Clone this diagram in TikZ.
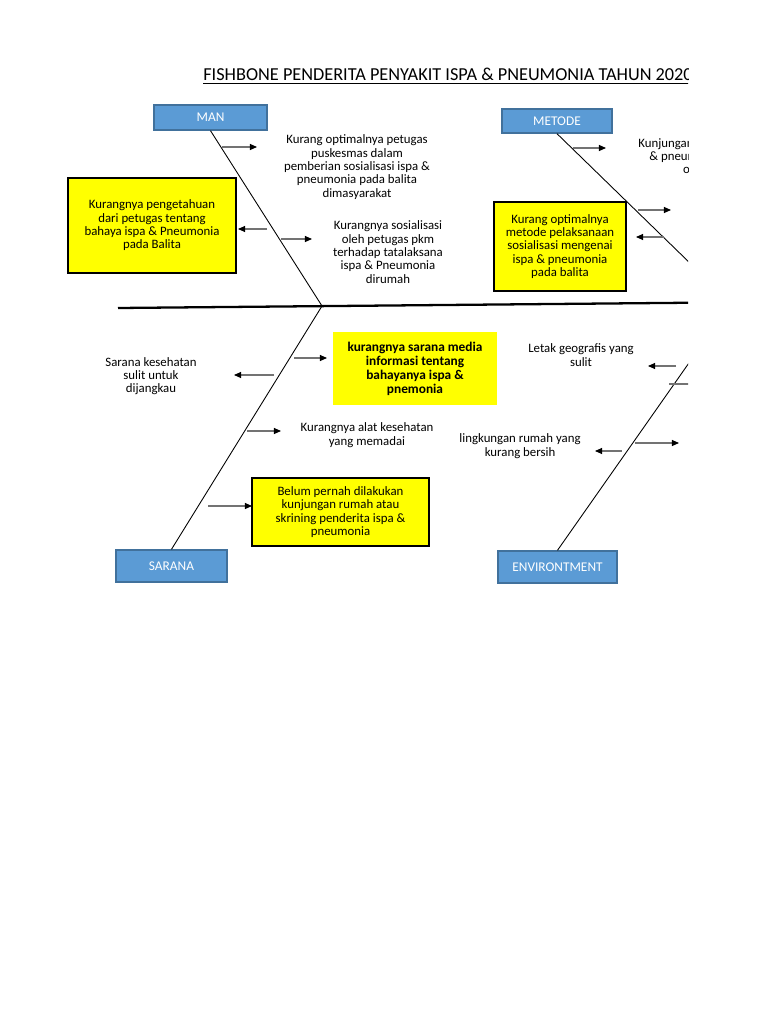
\documentclass[tikz,border=0pt]{standalone}
\usepackage{fontspec}
\setmainfont{Carlito}
\usetikzlibrary{arrows.meta}
\definecolor{catblue}{HTML}{5B9BD5}
\definecolor{catedge}{HTML}{41719C}
\definecolor{causeyellow}{HTML}{FFFF00}

\begin{document}
\begin{tikzpicture}[x=0.02cm,y=-0.02cm,
	cat/.style={fill=catblue, draw=catedge, line width=0.8pt, text=white, inner sep=0pt, font=\fontsize{7.6}{9}\selectfont},
	cause/.style={align=center, inner sep=0pt, font=\fontsize{7.3}{7.6}\selectfont},
	ybox/.style={cause, fill=causeyellow, draw=black, line width=1pt},
	arr/.style={-{Triangle[length=4pt,width=3.4pt,color=black]}, draw=black!55, line width=0.6pt},
	bone/.style={line width=0.5pt}]
	\useasboundingbox (0,0) rectangle (768,1024);
	\begin{scope}
	\clip (0,0) rectangle (688,1024);
	% judul
	\node[anchor=base west, inner sep=0pt, font=\fontsize{10.4}{12}\selectfont] (judul) at (203,81) {\underline{FISHBONE PENDERITA PENYAKIT ISPA \& PNEUMONIA TAHUN 2020}};
	% tulang utama
	\coordinate (ekor) at (118,308);
	\coordinate (kepala) at (770,302);
	\coordinate (jkiri) at (322,306);
	\coordinate (jkanan) at (731,303);
	\draw [line width=1.3pt] (ekor) -- (kepala);
	% kategori
	\node[cat, minimum width=2.26cm, minimum height=0.5cm] (man) at (210.5,117.5) {MAN};
	\node[cat, minimum width=2.2cm, minimum height=0.48cm] (metode) at (557,121) {METODE};
	\node[cat, minimum width=2.22cm, minimum height=0.64cm] (sarana) at (171.5,566) {SARANA};
	\node[cat, minimum width=2.38cm, minimum height=0.64cm] (env) at (557.5,567) {ENVIRONTMENT};
	\draw [bone] (man.south) -- (jkiri);
	\draw [bone] (sarana.north) -- (jkiri);
	\draw [bone] (metode.south) -- (jkanan);
	\draw [bone] (env.north) -- (jkanan);
	% sebab
	\node[cause] (p1) at (357,167) {Kurang optimalnya petugas\\puskesmas dalam\\pemberian sosialisasi ispa \&\\pneumonia pada balita\\dimasyarakat};
	\node[ybox, minimum width=3.36cm, minimum height=1.9cm] (y1) at (152,225.5) {Kurangnya pengetahuan\\dari petugas tentang\\bahaya ispa \& Pneumonia\\pada Balita};
	\node[cause] (p2) at (388,252) {Kurangnya sosialisasi\\oleh petugas pkm\\terhadap tatalaksana\\ispa \& Pneumonia\\dirumah};
	\node[cause] (p3) at (703,157) {Kunjungan rumah pasien\\\& pneumonia belum\\optimal};
	\node[ybox, minimum width=2.64cm, minimum height=1.78cm] (y2) at (560,246.5) {Kurang optimalnya\\metode pelaksanaan\\sosialisasi mengenai\\ispa \& pneumonia\\pada balita};
	\node[ybox, draw=none, minimum width=3.28cm, minimum height=1.46cm, font=\bfseries\fontsize{7.6}{8}\selectfont] (y3) at (415,368.5) {kurangnya sarana media\\informasi tentang\\bahayanya ispa \&\\pnemonia};
	\node[cause] (p4) at (151,376) {Sarana kesehatan\\sulit untuk\\dijangkau};
	\node[cause] (p5) at (367,435) {Kurangnya alat kesehatan\\yang memadai};
	\node[ybox, minimum width=3.54cm, minimum height=1.36cm] (y4) at (340.5,512) {Belum pernah dilakukan\\kunjungan rumah atau\\skrining penderita ispa \&\\pneumonia};
	\node[cause] (p6) at (581,355) {Letak geografis yang\\sulit};
	\node[cause] (p7) at (520,446) {lingkungan rumah yang\\kurang bersih};
	% panah kecil
	\foreach \n/\a/\b/\y in {m1/222/257/147, m2/267/238/229, m3/281/312/239,
		t1/573/606/148, t2/638/671/210, t3/664/636/237,
		s1/294/327/358, s2/274/234/375, s3/247/281/431, s4/208/252/506,
		e1/676/648/366, e2/669/702/384, e3/635/679/443, e4/622/595/451} {
		\coordinate (\n a) at (\a,\y);
		\coordinate (\n b) at (\b,\y);
		\draw [arr] (\n a) -- (\n b);
	}
	\end{scope}
\end{tikzpicture}
\end{document}
